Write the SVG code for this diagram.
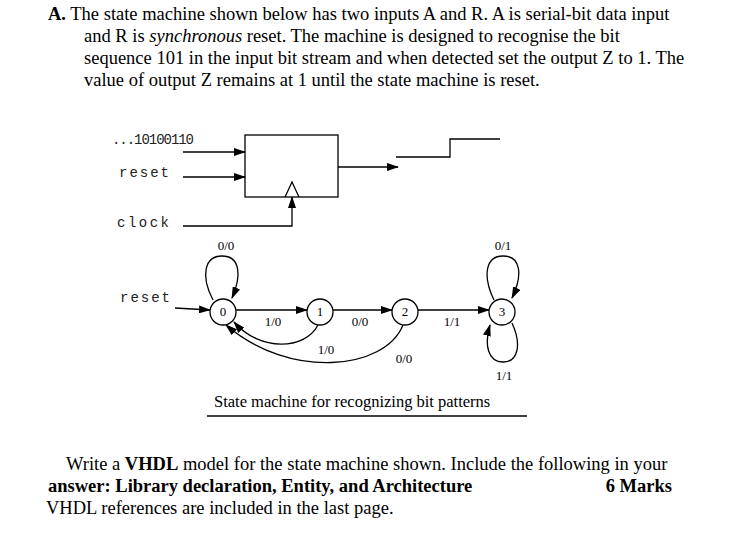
<svg xmlns="http://www.w3.org/2000/svg" width="737" height="536" viewBox="0 0 737 536">
<style>
.t{font-family:"Liberation Serif",serif;font-size:18.5px;fill:#000}
.b{font-weight:bold}
.m{font-family:"Liberation Mono",monospace;font-size:14px;fill:#222}
.l{font-family:"Liberation Serif",serif;font-size:13px;fill:#000}
.ln{fill:none;stroke:#000;stroke-width:1.3}
.st{fill:#fff;stroke:#000;stroke-width:1.3}
</style>
<defs>
<marker id="a" markerWidth="12" markerHeight="8" refX="11" refY="4" orient="auto" markerUnits="userSpaceOnUse"><path d="M0,0 L12,4 L0,8 z" fill="#000"/></marker>
</defs>
<rect width="737" height="536" fill="#fff"/>
<g id="question">
<text class="t" x="48" y="20"><tspan class="b">A.</tspan> The state machine shown below has two inputs A and R. A is serial-bit data input</text>
<text class="t" x="84" y="42">and R is <tspan font-style="italic">synchronous</tspan> reset. The machine is designed to recognise the bit</text>
<text class="t" x="84" y="64">sequence 101 in the input bit stream and when detected set the output Z to 1. The</text>
<text class="t" x="84" y="86">value of output Z remains at 1 until the state machine is reset.</text>
</g>
<g id="block">
<rect x="245" y="135" width="93" height="62" class="ln"/>
<path d="M285,197 L292,182 L299,197" class="ln"/>
<text class="m" x="112" y="144" textLength="82">...10100110</text>
<text class="m" x="119" y="177" textLength="50">reset</text>
<text class="m" x="117" y="227" textLength="52">clock</text>
<path d="M396,157 L450,157 L450,139 L500,139" class="ln"/>
</g>
<g id="connectors">
<path d="M183,152 L245,152" class="ln" marker-end="url(#a)"/>
<path d="M183,177 L245,177" class="ln" marker-end="url(#a)"/>
<path d="M183,226 L292,226 L292,197" class="ln" marker-end="url(#a)"/>
<path d="M338,167 L398,167" class="ln" marker-end="url(#a)"/>
<path d="M175,308 L210,310" class="ln" marker-end="url(#a)"/>
<path d="M236,310 L307,310" class="ln" marker-end="url(#a)"/>
<path d="M333,310 L392,310" class="ln" marker-end="url(#a)"/>
<path d="M418,310 L489,310" class="ln" marker-end="url(#a)"/>
<path d="M213,300 C200,275 205,256 222,256 C240,256 242,275 232,298" class="ln" marker-end="url(#a)"/>
<path d="M494,300 C482,275 486,256 503,256 C521,256 523,275 512,298" class="ln" marker-end="url(#a)"/>
<path d="M512,323 C522,345 518,362 503,362 C488,362 484,345 490,325" class="ln" marker-end="url(#a)"/>
<path d="M318,325 C305,350 260,352 234,322" class="ln" marker-end="url(#a)"/>
<path d="M403,325 C385,370 290,380 226,325" class="ln" marker-end="url(#a)"/>
</g>
<g id="s0"><circle cx="223" cy="312" r="13" class="st"/><text class="l" x="223" y="316" text-anchor="middle">0</text></g>
<g id="s1"><circle cx="320" cy="312" r="13" class="st"/><text class="l" x="320" y="316" text-anchor="middle">1</text></g>
<g id="s2"><circle cx="405" cy="312" r="13" class="st"/><text class="l" x="405" y="316" text-anchor="middle">2</text></g>
<g id="s3"><circle cx="502" cy="312" r="13" class="st"/><text class="l" x="502" y="316" text-anchor="middle">3</text></g>
<g id="labels">
<text class="m" x="120" y="302" textLength="50">reset</text>
<text class="l" x="226" y="250" text-anchor="middle">0/0</text>
<text class="l" x="503" y="250" text-anchor="middle">0/1</text>
<text class="l" x="273" y="326" text-anchor="middle">1/0</text>
<text class="l" x="360" y="326" text-anchor="middle">0/0</text>
<text class="l" x="452" y="326" text-anchor="middle">1/1</text>
<text class="l" x="326" y="354" text-anchor="middle">1/0</text>
<text class="l" x="404" y="363" text-anchor="middle">0/0</text>
<text class="l" x="504" y="380" text-anchor="middle">1/1</text>
<text class="l" x="214" y="407" style="font-size:16.5px">State machine for recognizing bit patterns</text>
<path d="M207,416 L527,416" class="ln"/>
</g>
<g id="task">
<text class="t" x="66" y="470">Write a <tspan class="b">VHDL</tspan> model for the state machine shown. Include the following in your</text>
<text class="t b" x="48" y="492">answer:  Library declaration, Entity, and Architecture</text>
<text class="t b" x="672" y="492" text-anchor="end">6 Marks</text>
<text class="t" x="46" y="514">VHDL references are included in the last page.</text>
</g>
</svg>
